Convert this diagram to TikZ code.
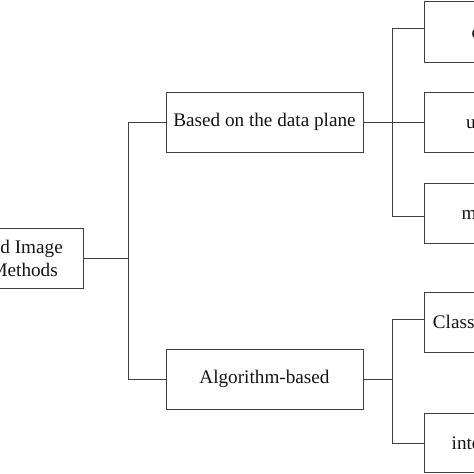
\documentclass[tikz,border=0pt]{standalone}
\usepackage{fontspec}
\setmainfont{Liberation Serif}
\begin{document}
\begin{tikzpicture}[x=1pt,y=-1pt,
  box/.style={draw=black!75, line width=0.9pt, minimum height=60pt, inner sep=0pt, font=\fontsize{19.2}{23}\selectfont, text=black!92},
  conn/.style={draw=black!75, line width=0.9pt},
  lbl/.style={inner sep=0pt, font=\fontsize{19.2}{23}\selectfont, text=black!92}]
\useasboundingbox (0,0) rectangle (474,474);
\clip (0,0) rectangle (474,474);
% root
\node[box, minimum width=117pt] (root) at (24.5,258) {};
\node[lbl, anchor=base east] (rootA) at (63,253) {d Image};
\node[lbl, anchor=base east] (rootB) at (58,276) {Methods};
% second level
\node[box, minimum width=197pt] (based) at (264.5,122) {Based on the data plane};
\node[box, minimum width=197pt] (algo) at (264.5,379) {Algorithm-based};
% third level
\node[box, minimum width=200pt, minimum height=61pt] (c1) at (524,31.5) {};
\node[box, minimum width=200pt] (c2) at (524,122) {};
\node[box, minimum width=200pt] (c3) at (524,213) {};
\node[box, minimum width=200pt] (c4) at (524,322) {};
\node[box, minimum width=200pt, minimum height=59pt] (c5) at (524,442.5) {};
\node[lbl, anchor=base west] (t1) at (471.5,38) {o};
\node[lbl, anchor=base west] (t2) at (466,128) {u};
\node[lbl, anchor=base west] (t3) at (461.5,219) {m};
\node[lbl, anchor=base west] (t4) at (432.7,328) {Class};
\node[lbl, anchor=base west] (t5) at (451.5,449) {inte};
% connectors
\coordinate (j1) at (128,258);
\coordinate (j2) at (392,122);
\coordinate (j3) at (392,379);
\draw[conn] (root.east) -- (j1);
\draw[conn] (j1) |- (based.west);
\draw[conn] (j1) |- (algo.west);
\draw[conn] (based.east) -- (j2);
\draw[conn] (j2) |- ([yshift=3.5pt]c1.west);
\draw[conn] (j2) -- (c2.west);
\draw[conn] (j2) |- ([yshift=-3pt]c3.west);
\draw[conn] (algo.east) -- (j3);
\draw[conn] (j3) |- ([yshift=3pt]c4.west);
\draw[conn] (j3) |- ([yshift=-0.5pt]c5.west);
\end{tikzpicture}
\end{document}
